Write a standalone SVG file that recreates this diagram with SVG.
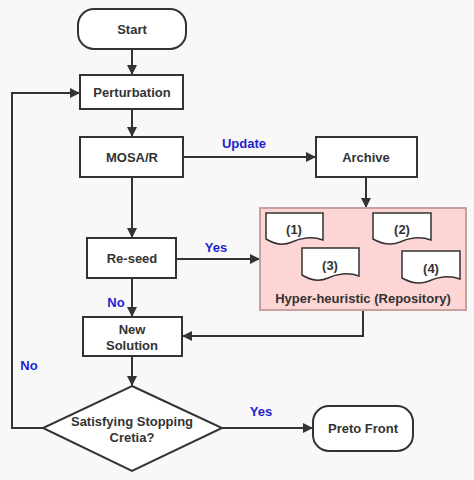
<svg xmlns="http://www.w3.org/2000/svg" width="474" height="480" viewBox="0 0 474 480">
<style>
.n{fill:#fff;stroke:#333;stroke-width:2}
.t{font-family:"Liberation Sans",Arial,sans-serif;font-size:13px;font-weight:bold;fill:#333;text-anchor:middle}
.l{font-family:"Liberation Sans",Arial,sans-serif;font-size:13px;font-weight:bold;fill:#1f1fd0;text-anchor:middle}
.c{fill:none;stroke:#333;stroke-width:2}
.d{fill:#fff;stroke:#333;stroke-width:1.5}
</style>
<defs>
<marker id="a" viewBox="0 0 10 10" refX="10" refY="5" markerWidth="10" markerHeight="10" markerUnits="userSpaceOnUse" orient="auto">
<path d="M0,0 L10,5 L0,10 Z" fill="#333"/>
</marker>
</defs>
<rect width="474" height="480" fill="#f8f8f8"/>
<g id="connectors">
<path class="c" d="M132,49 V75" marker-end="url(#a)"/>
<path class="c" d="M132,109 V137" marker-end="url(#a)"/>
<path class="c" d="M132,177 V238" marker-end="url(#a)"/>
<path class="c" d="M132,278 V317" marker-end="url(#a)"/>
<path class="c" d="M132,356 V386" marker-end="url(#a)"/>
<path class="c" d="M183,157 H316" marker-end="url(#a)"/>
<path class="c" d="M366,177 V208" marker-end="url(#a)"/>
<path class="c" d="M176,259 H260" marker-end="url(#a)"/>
<path class="c" d="M363,310 V336 H182" marker-end="url(#a)"/>
<path class="c" d="M222,428 H313" marker-end="url(#a)"/>
<path class="c" d="M43,428 H12 V93 H80" marker-end="url(#a)"/>
<text class="l" x="244" y="148">Update</text>
<text class="l" x="216" y="252">Yes</text>
<text class="l" x="116" y="307">No</text>
<text class="l" x="29" y="370">No</text>
<text class="l" x="261" y="416">Yes</text>
</g>
<g id="start"><rect class="n" x="78" y="9" width="108" height="40" rx="16"/><text class="t" x="132" y="34">Start</text></g>
<g id="perturbation"><rect class="n" x="80" y="75" width="103" height="34"/><text class="t" x="132" y="97">Perturbation</text></g>
<g id="mosar"><rect class="n" x="80" y="137" width="103" height="40"/><text class="t" x="132" y="162">MOSA/R</text></g>
<g id="archive"><rect class="n" x="316" y="137" width="101" height="40"/><text class="t" x="366" y="162">Archive</text></g>
<g id="repository">
<rect x="260" y="208" width="206" height="102" fill="#fdd5d5" stroke="#c9a0a0" stroke-width="2"/>
<path class="d" d="M266,213 H323 V240 C312,236 300,238 292,242 C283,246 274,244 266,239 Z"/>
<text class="t" x="294" y="234">(1)</text>
<path class="d" d="M373,213 H431 V240 C420,236 408,238 400,242 C391,246 382,244 373,239 Z"/>
<text class="t" x="402" y="234">(2)</text>
<path class="d" d="M302,248 H359 V276 C348,272 336,274 328,278 C319,282 310,280 302,275 Z"/>
<text class="t" x="330" y="270">(3)</text>
<path class="d" d="M402,251 H460 V279 C449,275 437,277 429,281 C420,285 411,283 402,278 Z"/>
<text class="t" x="431" y="273">(4)</text>
<text class="t" x="363" y="303">Hyper-heuristic (Repository)</text>
</g>
<g id="reseed"><rect class="n" x="87" y="238" width="89" height="40"/><text class="t" x="132" y="263">Re-seed</text></g>
<g id="newsolution"><rect class="n" x="83" y="317" width="99" height="39"/><text class="t" x="132" y="334">New</text><text class="t" x="132" y="350">Solution</text></g>
<g id="decision"><path class="n" d="M132,386 L222,428 L132,471 L43,428 Z"/><text class="t" x="132" y="426">Satisfying Stopping</text><text class="t" x="132" y="442">Cretia?</text></g>
<g id="preto"><rect class="n" x="313" y="406" width="100" height="45" rx="16"/><text class="t" x="363" y="433">Preto Front</text></g>
</svg>
